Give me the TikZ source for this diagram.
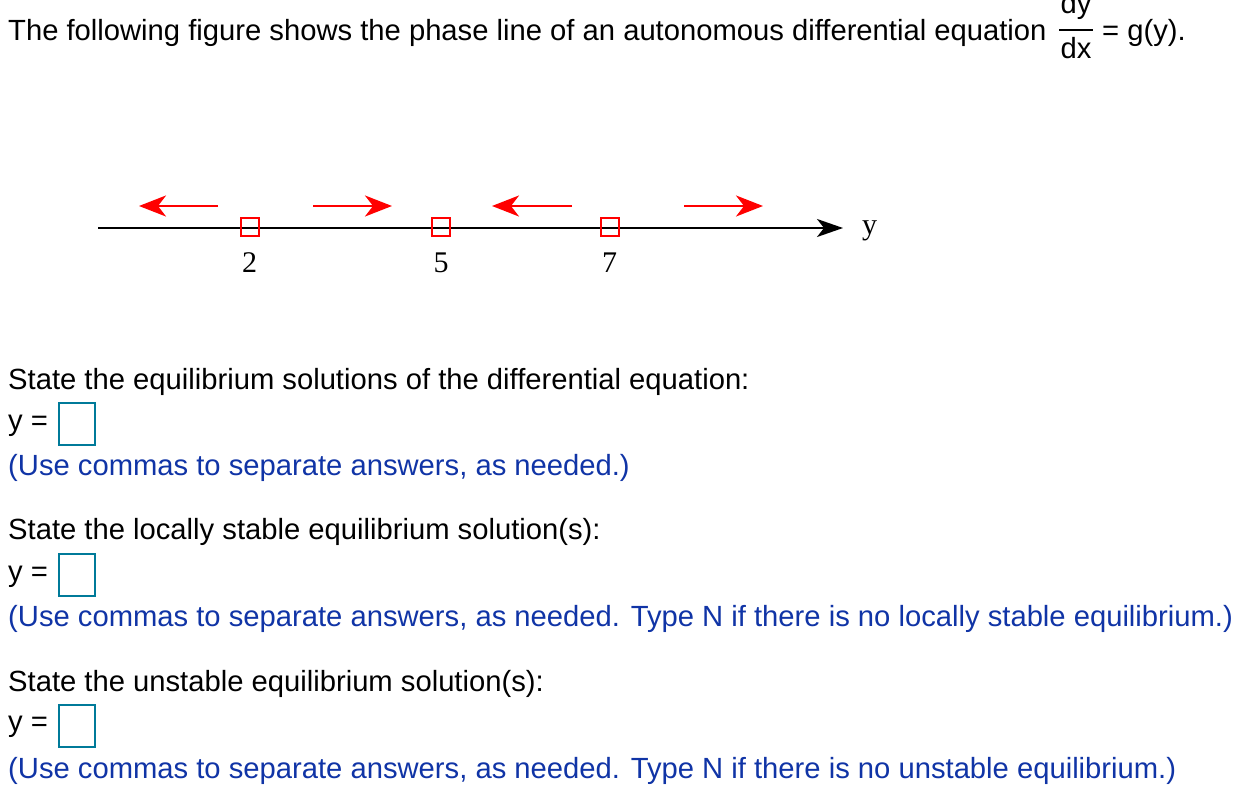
\documentclass[tikz,border=0pt]{standalone}
\usepackage{fontspec}
\setmainfont{Liberation Sans}
\newfontfamily\numfont{Liberation Serif}
\usetikzlibrary{arrows.meta}
\definecolor{eqred}{RGB}{255,0,0}
\definecolor{hintblue}{RGB}{16,52,166}
\definecolor{boxteal}{RGB}{0,122,153}

\begin{document}
\begin{tikzpicture}[x=1pt, y=-1pt,
    txt/.style={anchor=base west, inner sep=0pt, font=\fontsize{29.2}{34}\selectfont},
    hint/.style={txt, text=hintblue},
    eqpt/.style={draw=eqred, line width=2pt, minimum size=18pt, inner sep=0pt},
    flow/.style={eqred, line width=2.5pt, -{Stealth[length=27pt, width=21pt, inset=8pt]}},
    ansbox/.style={draw=boxteal, line width=2pt, minimum width=36pt, minimum height=42pt, inner sep=0pt, anchor=north west},
    numlab/.style={anchor=base, inner sep=0pt, font=\numfont\fontsize{30}{32}\selectfont}]

    \useasboundingbox (0,0) rectangle (1249,791);

    % heading with dy/dx
    \node[txt] (intro) at (8,41) {The following figure shows the phase line of an autonomous differential equation};
    \node[txt, anchor=base] (dy) at (1076,14) {dy};
    \node[txt, anchor=base] (dx) at (1076,59) {dx};
    \draw[line width=1.5pt] (1059,30) -- (1093,30);
    \node[txt] (rhs) at (1102,41) {= g(y).};

    % phase line
    \coordinate (lstart) at (98,228);
    \coordinate (lend) at (843,228);
    \draw[line width=2pt, -{Stealth[length=26pt, width=18pt, inset=7pt]}] (lstart) -- (lend);
    \node[numlab, anchor=base west] (ylab) at (862,235) {y};
    \foreach \xpos/\val in {249.5/2, 441/5, 609.5/7} {
        \node[eqpt] (eq\val) at (\xpos,227) {};
        \node[numlab] (lab\val) at (\xpos,273) {\val};
    }
    \foreach \i/\xa/\xb in {1/218/139, 2/313/392, 3/572/492, 4/684/763} {
        \coordinate (fa\i) at (\xa,206);
        \coordinate (fb\i) at (\xb,206);
        \draw[flow] (fa\i) -- (fb\i);
    }

    % questions
    \node[txt] (q1) at (8,389) {State the equilibrium solutions of the differential equation:};
    \node[txt] (y1) at (8,430) {y =};
    \node[ansbox] (a1) at (58,402) {};
    \node[hint] (h1) at (8,475) {(Use commas to separate answers, as needed.)};

    \node[txt] (q2) at (8,539) {State the locally stable equilibrium solution(s):};
    \node[txt] (y2) at (8,581) {y =};
    \node[ansbox] (a2) at (58,553) {};
    \node[hint] (h2) at (8,626) {(Use commas to separate answers, as needed. Type N if there is no locally stable equilibrium.)};

    \node[txt] (q3) at (8,691) {State the unstable equilibrium solution(s):};
    \node[txt] (y3) at (8,731) {y =};
    \node[ansbox] (a3) at (58,704) {};
    \node[hint] (h3) at (8,778) {(Use commas to separate answers, as needed. Type N if there is no unstable equilibrium.)};

\end{tikzpicture}
\end{document}
